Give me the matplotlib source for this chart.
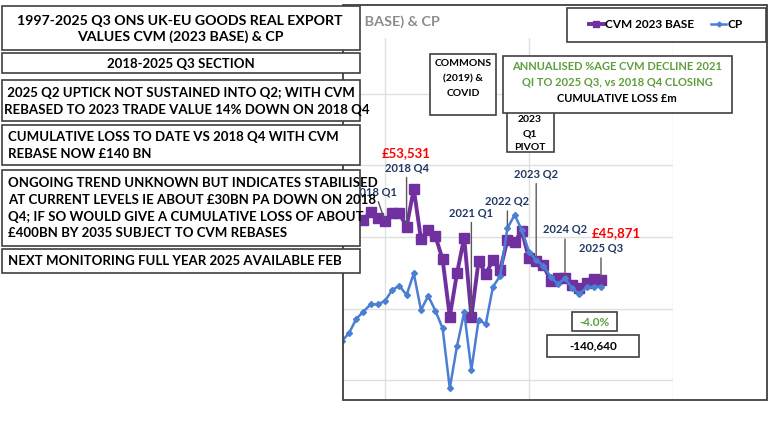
import matplotlib
matplotlib.use("Agg")
import matplotlib.pyplot as plt
from matplotlib.patches import Rectangle
from matplotlib.lines import Line2D

plt.rcParams['font.family'] = ['Lato', 'DejaVu Sans']

# quarter categories, index 0 = 2016 Q1
quarters = [f"{y} Q{q}" for y in range(2016, 2026) for q in range(1, 5)][:39]

# current prices, £m, 2016 Q3 .. 2025 Q3
cp_start = quarters.index("2016 Q3")
cp = [40770, 41420, 42620, 43230, 43850, 43850, 44130, 45050, 45410, 44630,
      46450, 43370, 44550, 43320, 41840, 36800, 40350, 43180, 38340, 42540,
      42200, 45330, 46230, 50230, 51350, 50090, 48270, 47570, 47070, 46170,
      45560, 46030, 45200, 44720, 45280, 45330, 45330]

# chained volume measure (2023 base), £m, 2017 Q2 .. 2025 Q3
cvm_start = quarters.index("2017 Q2")
cvm = [50930, 51620, 51120, 50840, 51490, 51490, 50360, 53531, 49310, 50090,
       49580, 47630, 42810, 46450, 49440, 42810, 47490, 46400, 47570, 46730,
       49250, 49060, 50000, 47710, 47490, 47150, 45810, 46030, 46030, 45470,
       45200, 45620, 45950, 45871]

grid_q = ["2018 Q1", "2023 Q1"]
grid_y = [37500, 43500, 49500, 55500, 61500]

PURPLE = "#7030A0"
BLUE = "#4A7FD4"
NAVY = "#1F3864"
GREEN = "#5E9E3E"
EDGE = "#404040"

W, H = 768, 424
fig = plt.figure(figsize=(W / 100, H / 100), dpi=100)

# data axes placed in the chart frame
x0, x1, yt, yb = 343, 673, 38, 400
ax = fig.add_axes([x0 / W, (H - yb) / H, (x1 - x0) / W, (yb - yt) / H])
q0 = quarters.index("2018 Q1")
ax.set_xlim(q0 - 5.83, q0 + 40)
ax.set_ylim(35822, 66199)
ax.set_xticks([quarters.index(g) for g in grid_q] + [q0 + 40])
ax.set_yticks(grid_y)
ax.grid(color="#e0e0e0", lw=1)
ax.tick_params(length=0, labelbottom=False, labelleft=False)
for s in ax.spines.values():
    s.set_visible(False)

cp_x = list(range(cp_start, cp_start + len(cp)))
cvm_x = list(range(cvm_start, cvm_start + len(cvm)))
ax.plot(cp_x, cp, color=BLUE, lw=1.8, marker="D", ms=3, zorder=3)
ax.plot(cvm_x, cvm, color=PURPLE, lw=2.8, marker="s", ms=6.5, zorder=2)

lab = dict(fontsize=8, fontweight="bold", ha="center", va="center",
           textcoords="offset pixels")
red = dict(lab, fontsize=9.5, color="red")
arrow = dict(arrowstyle="-", color="#595959", lw=1, shrinkA=1, shrinkB=2)


def point(series, xs, q):
    i = quarters.index(q)
    return (i, series[xs.index(i)])


ax.annotate("2018 Q1", point(cvm, cvm_x, "2018 Q1"), xytext=(-10, 29), color=NAVY, arrowprops=arrow, **lab)
ax.annotate("2018 Q4", point(cvm, cvm_x, "2018 Q4"), xytext=(0, 59), color=NAVY, arrowprops=arrow, **lab)
ax.annotate("£53,531", point(cvm, cvm_x, "2018 Q4"), xytext=(0, 74), **red)
ax.annotate("2021 Q1", point(cvm, cvm_x, "2021 Q1"), xytext=(0, 104), color=NAVY, arrowprops=arrow, **lab)
ax.annotate("2022 Q2", point(cp, cp_x, "2022 Q2"), xytext=(0, 27), color=NAVY, arrowprops=arrow, **lab)
ax.annotate("2023 Q2", point(cvm, cvm_x, "2023 Q2"), xytext=(0, 87), color=NAVY, arrowprops=arrow, **lab)
ax.annotate("2024 Q2", point(cvm, cvm_x, "2024 Q2"), xytext=(0, 49), color=NAVY, arrowprops=arrow, **lab)
ax.annotate("2025 Q3", point(cvm, cvm_x, "2025 Q3"), xytext=(0, 32), color=NAVY, arrowprops=arrow, **lab)
ax.annotate("£45,871", point(cvm, cvm_x, "2025 Q3"), xytext=(15, 47), **red)

# overlay in pixel coordinates for frame, text boxes and legend
ov = fig.add_axes([0, 0, 1, 1], zorder=5)
ov.set_xlim(0, W)
ov.set_ylim(H, 0)
ov.axis("off")
ov.patch.set_alpha(0)

ov.add_patch(Rectangle((343, 5), 767 - 343, 400 - 5, fill=False, ec=EDGE, lw=1.3, zorder=1))

# chart title mostly hidden behind the text boxes; size it so "BASE) & CP" spans ~75px
renderer = fig.canvas.get_renderer()
probe = ov.text(0, 0, "BASE) & CP", fontsize=12, fontweight="bold")
title_size = 12 * 75 / probe.get_window_extent(renderer).width
probe.remove()
ov.text(440, 22, "(2023 BASE) & CP", ha="right", va="center", fontsize=title_size,
        color="#8c8c8c", fontweight="bold", zorder=1)


def box(xa, ya, xb, yb_):
    ov.add_patch(Rectangle((xa, ya), xb - xa, yb_ - ya, fc="white", ec=EDGE, lw=1.2, zorder=3))


def txt(x, y, s, ha="left", color="black", size=9.5):
    ov.text(x, y, s, ha=ha, va="center", fontsize=size, fontweight="bold", color=color, zorder=4)


box(2, 6, 360, 50)
txt(180, 21, "1997-2025 Q3 ONS UK-EU GOODS REAL EXPORT", ha="center", size=10.2)
txt(180, 37, "VALUES CVM (2023 BASE) & CP", ha="center", size=10.2)
box(2, 53, 360, 73)
txt(181, 64, "2018-2025 Q3 SECTION", ha="center")
box(2, 80, 360, 121)
txt(4, 93, " 2025 Q2 UPTICK NOT SUSTAINED INTO Q2; WITH CVM")
txt(4, 110, "REBASED TO 2023 TRADE VALUE 14% DOWN ON 2018 Q4")
box(2, 125, 360, 165)
txt(8, 137, "CUMULATIVE LOSS TO DATE VS 2018 Q4 WITH CVM")
txt(8, 154, "REBASE NOW £140 BN")
box(2, 170, 360, 246)
for y, s in zip([183, 200, 217, 233],
                ["ONGOING TREND UNKNOWN BUT INDICATES STABILISED",
                 "AT CURRENT LEVELS IE ABOUT £30BN PA DOWN ON 2018",
                 "Q4; IF SO WOULD GIVE A CUMULATIVE LOSS OF ABOUT",
                 "£400BN BY 2035 SUBJECT TO CVM REBASES"]):
    txt(8, y, s)
box(2, 249, 360, 273)
txt(8, 261, "NEXT MONITORING FULL YEAR 2025 AVAILABLE FEB")

# boxes inside the chart
box(430, 54, 496, 115)
for y, s in zip([63, 79, 93], ["COMMONS", "(2019) &", "COVID"]):
    txt(463, y, s, ha="center", size=7.5)
box(507, 105, 554, 152)
for y, s in zip([119, 134, 148], ["2023", "Q1", "PIVOT"]):
    txt(530, y, s, ha="center", size=7.5)
box(503, 56, 732, 113)
txt(617, 66, "ANNUALISED %AGE CVM DECLINE 2021", ha="center", color=GREEN, size=8)
txt(617, 82, "QI TO 2025 Q3, vs 2018 Q4 CLOSING", ha="center", color=GREEN, size=8)
txt(617, 99, "CUMULATIVE LOSS £m", ha="center", size=8)
box(572, 312, 617, 331)
txt(595, 322, "-4.0%", ha="center", color=GREEN, size=8.5)
box(547, 335, 639, 357)
txt(593, 346, "-140,640", ha="center", size=8.5)

# legend
box(567, 8, 766, 42)
handles = [Line2D([], [], color=PURPLE, lw=2.8, marker="s", ms=4),
           Line2D([], [], color=BLUE, lw=1.8, marker="D", ms=2.5)]
leg = ov.legend(handles, ["CVM 2023 BASE", "CP"], loc="center left", bbox_to_anchor=(589, 25),
                bbox_transform=ov.transData, ncol=2, frameon=False, handlelength=1.27,
                handletextpad=0.05, columnspacing=1.5, borderpad=0, borderaxespad=0,
                prop={"weight": "bold", "size": 8.5})
leg.set_zorder(6)

fig.savefig("out.png", dpi=100, facecolor="white")
